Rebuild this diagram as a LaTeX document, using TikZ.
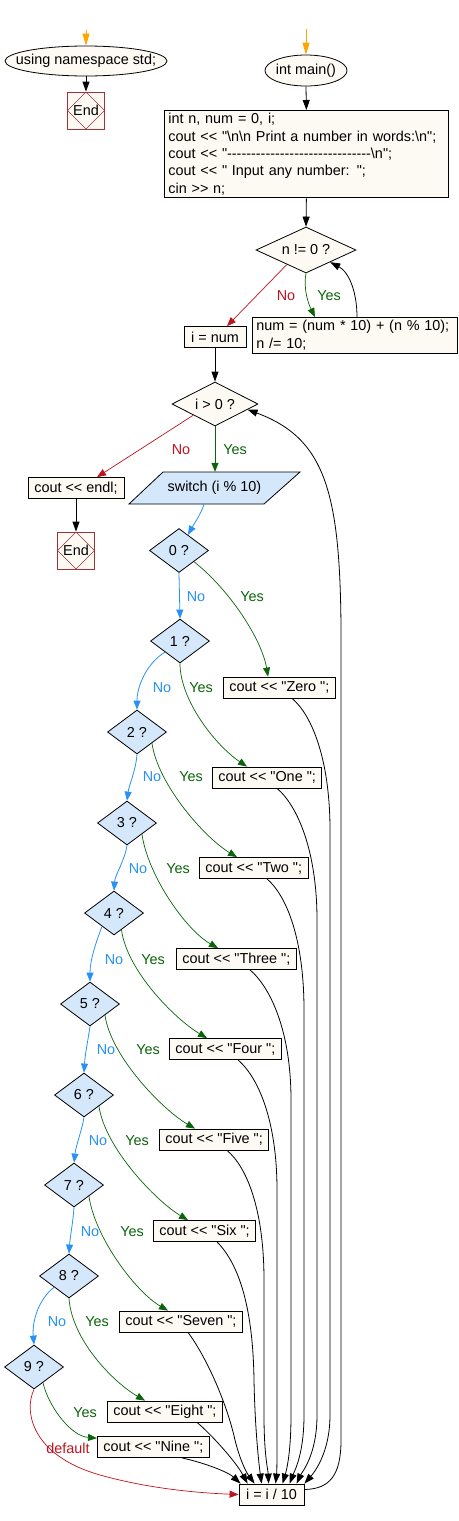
\documentclass[tikz,border=0pt]{standalone}
\usepackage{fontspec}
\setmainfont{Liberation Sans}[Ligatures=TeXOff]
\usetikzlibrary{arrows.meta,shapes.geometric,calc}
\definecolor{cream}{RGB}{253,250,243}
\definecolor{ltblue}{RGB}{213,231,250}
\definecolor{orng}{RGB}{255,165,0}
\definecolor{redc}{RGB}{190,20,30}
\definecolor{greenc}{RGB}{10,100,10}
\definecolor{bluec}{RGB}{40,145,245}
\definecolor{endred}{RGB}{160,50,60}
\begin{document}
\begin{tikzpicture}[x=1pt,y=-1pt,
  every node/.style={font=\fontsize{14.4}{17.3}\selectfont},
  proc/.style={rectangle, draw, fill=cream, line width=0.8pt, minimum height=21pt, inner xsep=6pt, inner ysep=0pt},
  decbox/.style={diamond, aspect=2, draw, fill=cream, line width=0.8pt, minimum width=100pt, minimum height=46pt, inner sep=0pt},
  casedec/.style={diamond, aspect=1.3, draw, fill=ltblue, line width=0.8pt, minimum width=59pt, minimum height=44pt, inner sep=0pt},
  ell/.style={ellipse, draw, fill=cream, line width=0.8pt, inner sep=0pt},
  endbox/.style={rectangle, draw=endred, fill=cream, line width=0.8pt, minimum width=37pt, minimum height=37pt, inner sep=0pt,
    path picture={\draw[endred, line width=0.5pt] (path picture bounding box.north) -- (path picture bounding box.east) -- (path picture bounding box.south) -- (path picture bounding box.west) -- cycle;}},
  swshape/.style={draw, fill=ltblue, line width=0.8pt},
  swbox/.style={rectangle, inner sep=0pt, minimum width=137pt, minimum height=32pt},
  karr/.style={-{Triangle[length=10pt,width=7pt]}, line width=0.8pt, black},
  oarr/.style={-{Triangle[length=12pt,width=7pt]}, line width=0.8pt, orng},
  rarr/.style={-{Triangle[length=9pt,width=7pt]}, line width=0.7pt, redc},
  garr/.style={-{Triangle[length=9pt,width=7pt]}, line width=0.7pt, greenc},
  barr/.style={-{Triangle[length=9pt,width=7pt]}, line width=0.8pt, bluec},
  lbl/.style={inner sep=0pt}
]
\fill[white] (0,0) rectangle (458,1521);
\useasboundingbox (0,0) rectangle (458,1521);

% ---------- top ----------
\node[ell, minimum width=162pt, minimum height=30pt] (ns) at (86,61) {};
\node (nst) at (ns.center) {using namespace std;};
\node[endbox] (e1) at (86,110.5) {End};

\node[ell, minimum width=82pt, minimum height=31pt] (mn) at (306,70.5) {};
\node (mnt) at (mn.center) {int main()};

\node[proc, anchor=north west, text width=276pt, align=left, inner xsep=4pt, inner ysep=3pt] (init) at (164,110)
  {int n, num = 0, i;\\
   cout << "\textbackslash n\textbackslash n Print a number in words:\textbackslash n";\\
   cout << "------------------------------\textbackslash n";\\
   cout << " Input any number: ";\\
   cin >> n;};

\node[decbox] (nz) at (306,250) {n != 0 ?};
\node[proc, minimum width=62pt] (inum) at (215,337) {i = num};
\node[proc, anchor=north west, text width=197pt, align=left, inner xsep=4pt, inner ysep=3pt] (numb) at (252,317)
  {num = (num * 10) + (n \% 10);\\ n /= 10;};

\node[decbox, minimum width=86pt, minimum height=44pt] (ig) at (215,404) {i > 0 ?};
\node[proc, minimum width=96pt] (endl) at (76,488) {cout << endl;};
\node[endbox] (e2) at (76,550.5) {End};
\path[swshape] (129,504) -- (163,472) -- (300,472) -- (264,504) -- cycle;
\node[swbox] (sw) at (214.5,488) {switch (i \% 10)};

% ---------- case diamonds ----------
\node[casedec] (d0) at (179,550.5) {0 ?};
\node[casedec] (d1) at (180,641) {1 ?};
\node[casedec] (d2) at (137,732) {2 ?};
\node[casedec] (d3) at (127,823) {3 ?};
\node[casedec] (d4) at (114,913) {4 ?};
\node[casedec] (d5) at (90,1004) {5 ?};
\node[casedec] (d6) at (84,1095) {6 ?};
\node[casedec] (d7) at (74,1185) {7 ?};
\node[casedec] (d8) at (69,1276) {8 ?};
\node[casedec] (d9) at (34,1367) {9 ?};

% ---------- case boxes ----------
\node[proc, anchor=west] (c0) at (223,687.5) {cout << "Zero ";};
\node[proc, anchor=west] (c1) at (212,777.5) {cout << "One ";};
\node[proc, anchor=west] (c2) at (199,868) {cout << "Two ";};
\node[proc, anchor=west] (c3) at (176,959) {cout << "Three ";};
\node[proc, anchor=west] (c4) at (169,1049) {cout << "Four ";};
\node[proc, anchor=west] (c5) at (159,1139.5) {cout << "Five ";};
\node[proc, anchor=west] (c6) at (153,1231) {cout << "Six ";};
\node[proc, anchor=west] (c7) at (119,1321.5) {cout << "Seven ";};
\node[proc, anchor=west] (c8) at (107,1411.5) {cout << "Eight ";};
\node[proc, anchor=west] (c9) at (97,1447) {cout << "Nine ";};

\node[proc, minimum width=65pt] (ii) at (271.5,1494.5) {i = i / 10};

% ---------- top connectors ----------
\coordinate (nsin) at (86,30);
\draw[oarr] (nsin) -- (ns.north);
\draw[karr] (ns.south) -- (e1.north);
\coordinate (mnin) at (306,29);
\draw[oarr] (mnin) -- (mn.north);
\draw[karr] (mn.south) -- (init.north);
\draw[karr] (init.south) -- (nz.north);
\draw[rarr] ($(nz.west)!0.62!(nz.south)$) -- ($(inum.north)+(12,0)$);
\draw[garr] (nz.south) .. controls (303,290) and (309,305) .. ($(numb.north west)+(63,0)$);
\draw[karr] ($(numb.north west)+(105,0)$) .. controls (357,292) and (349,272) .. ($(nz.south)!0.48!(nz.east)$);
\node[lbl, text=redc] (l1) at (286,296) {No};
\node[lbl, text=greenc] (l2) at (329,296) {Yes};

\draw[karr] (inum.south) -- (ig.north);
\draw[rarr] (ig.south west) -- ($(endl.north)+(21,0)$);
\draw[garr] (ig.south) -- (ig.south |- sw.north);
\draw[karr] (endl.south) -- (e2.north);
\node[lbl, text=redc] (l3) at (181,450) {No};
\node[lbl, text=greenc] (l4) at (235,450) {Yes};

% ---------- switch chain (No) ----------
\draw[barr] ($(sw.south)+(-10.5,0)$) .. controls (201,514) and (194,524) .. ($(d0.north)!0.3!(d0.east)$);
\draw[barr] (d0.south) -- (d1.north);
\draw[barr] (d1.south west) .. controls (148,662) and (137,685) .. (d2.north);
\draw[barr] (d2.south) .. controls (136,770) and (129,785) .. (d3.north);
\draw[barr] (d3.south) .. controls (125,860) and (115,875) .. (d4.north);
\draw[barr] ($(d4.south)!0.4!(d4.west)$) .. controls (96,942) and (90,960) .. (d5.north);
\draw[barr] (d5.south) .. controls (88,1040) and (85,1055) .. (d6.north);
\draw[barr] (d6.south) .. controls (82,1130) and (76,1145) .. (d7.north);
\draw[barr] (d7.south) .. controls (73,1222) and (70,1238) .. (d8.north);
\draw[barr] (d8.south west) .. controls (38,1300) and (32,1322) .. (d9.north);

\node[lbl, text=bluec] (n0) at (196,597) {No};
\node[lbl, text=bluec] (n1) at (162,688) {No};
\node[lbl, text=bluec] (n2) at (152,777) {No};
\node[lbl, text=bluec] (n3) at (138,869) {No};
\node[lbl, text=bluec] (n4) at (114,960) {No};
\node[lbl, text=bluec] (n5) at (106,1050) {No};
\node[lbl, text=bluec] (n6) at (98,1141) {No};
\node[lbl, text=bluec] (n7) at (90,1232) {No};
\node[lbl, text=bluec] (n8) at (57,1322) {No};

% ---------- switch chain (Yes) ----------
\draw[garr] (d0.south east) .. controls (230,590) and (262,640) .. ($(c0.north west)+(45,0)$);
\draw[garr] (d1.south) .. controls (180,700) and (215,745) .. ($(c1.north west)+(35,0)$);
\draw[garr] (d2.south east) .. controls (158,785) and (205,838) .. ($(c2.north west)+(38,0)$);
\draw[garr] (d3.south east) .. controls (148,876) and (186,930) .. ($(c3.north west)+(42,0)$);
\draw[garr] ($(d4.south)!0.5!(d4.south east)$) .. controls (127,971) and (175,1019) .. ($(c4.north west)+(38,0)$);
\draw[garr] (d5.south east) .. controls (111,1057) and (163,1110) .. ($(c5.north west)+(36,0)$);
\draw[garr] (d6.south east) .. controls (105,1148) and (156,1201) .. ($(c6.north west)+(35,0)$);
\draw[garr] (d7.south east) .. controls (95,1238) and (136,1292) .. ($(c7.north west)+(49,0)$);
\draw[garr] (d8.south) .. controls (72,1340) and (113,1382) .. ($(c8.north west)+(38,0)$);
\draw[garr] ($(d9.south)!0.3!(d9.east)$) .. controls (48,1405) and (70,1436) .. ($(c9.north west)+(0,2)$);

\node[lbl, text=greenc] (y0) at (252,597) {Yes};
\node[lbl, text=greenc] (y1) at (201,688) {Yes};
\node[lbl, text=greenc] (y2) at (191,777) {Yes};
\node[lbl, text=greenc] (y3) at (178,869) {Yes};
\node[lbl, text=greenc] (y4) at (153,960) {Yes};
\node[lbl, text=greenc] (y5) at (148,1050) {Yes};
\node[lbl, text=greenc] (y6) at (137,1141) {Yes};
\node[lbl, text=greenc] (y7) at (132,1232) {Yes};
\node[lbl, text=greenc] (y8) at (97,1322) {Yes};
\node[lbl, text=greenc] (y9) at (85,1413) {Yes};

% ---------- default ----------
\draw[rarr] (d9.south) .. controls (24,1410) and (30,1455) .. (100,1475) .. controls (150,1489) and (200,1493) .. (ii.west);
\node[lbl, text=redc] (ldef) at (68,1448) {default};

% ---------- to i = i / 10 ----------
\draw[karr] ($(c0.south west)+(69,0)$) .. controls (312,715) and (330,760) .. (330,830) -- (330,1415) .. controls (330,1455) and (312,1475) .. (ii.north east);
\draw[karr] ($(c1.south west)+(65,0)$) .. controls (297,805) and (317,850) .. (317,920) -- (317,1415) .. controls (317,1455) and (302,1472) .. ($(ii.north west)+(58,0)$);
\draw[karr] ($(c2.south west)+(68,0)$) .. controls (287,896) and (304,940) .. (304,1010) -- (304,1415) .. controls (304,1455) and (294,1472) .. ($(ii.north west)+(51,0)$);
\draw[karr] ($(c3.south west)+(74,0)$) .. controls (270,987) and (291,1030) .. (291,1100) -- (291,1415) .. controls (291,1455) and (286,1472) .. ($(ii.north west)+(44,0)$);
\draw[karr] ($(c4.south west)+(69,0)$) .. controls (258,1077) and (277,1120) .. (277,1190) -- (277,1415) .. controls (277,1455) and (277,1470) .. ($(ii.north west)+(37,0)$);
\draw[karr] ($(c5.south west)+(68,0)$) .. controls (247,1167) and (264,1210) .. (264,1280) -- (264,1415) .. controls (264,1455) and (268,1470) .. ($(ii.north west)+(30,0)$);
\draw[karr] ($(c6.south west)+(64,0)$) .. controls (240,1265) and (253,1310) .. (254,1380) .. controls (255,1430) and (259,1465) .. ($(ii.north west)+(23,0)$);
\draw[karr] ($(c7.south west)+(69,0)$) .. controls (205,1355) and (226,1400) .. (235,1440) .. controls (240,1460) and (246,1472) .. ($(ii.north west)+(16,0)$);
\draw[karr] ($(c8.south west)+(90,0)$) .. controls (212,1435) and (236,1462) .. ($(ii.north west)+(9,0)$);
\draw[karr] ($(c9.south west)+(85,0)$) .. controls (205,1463) and (228,1472) .. ($(ii.north west)+(2,0)$);

% ---------- loop back ----------
\draw[karr] ($(ii.east)+(0,-5)$) .. controls (330,1489) and (341,1475) .. (341,1440) -- (341,660) .. controls (342,500) and (330,440) .. ($(ig.south)!0.75!(ig.east)$);
\end{tikzpicture}
\end{document}
